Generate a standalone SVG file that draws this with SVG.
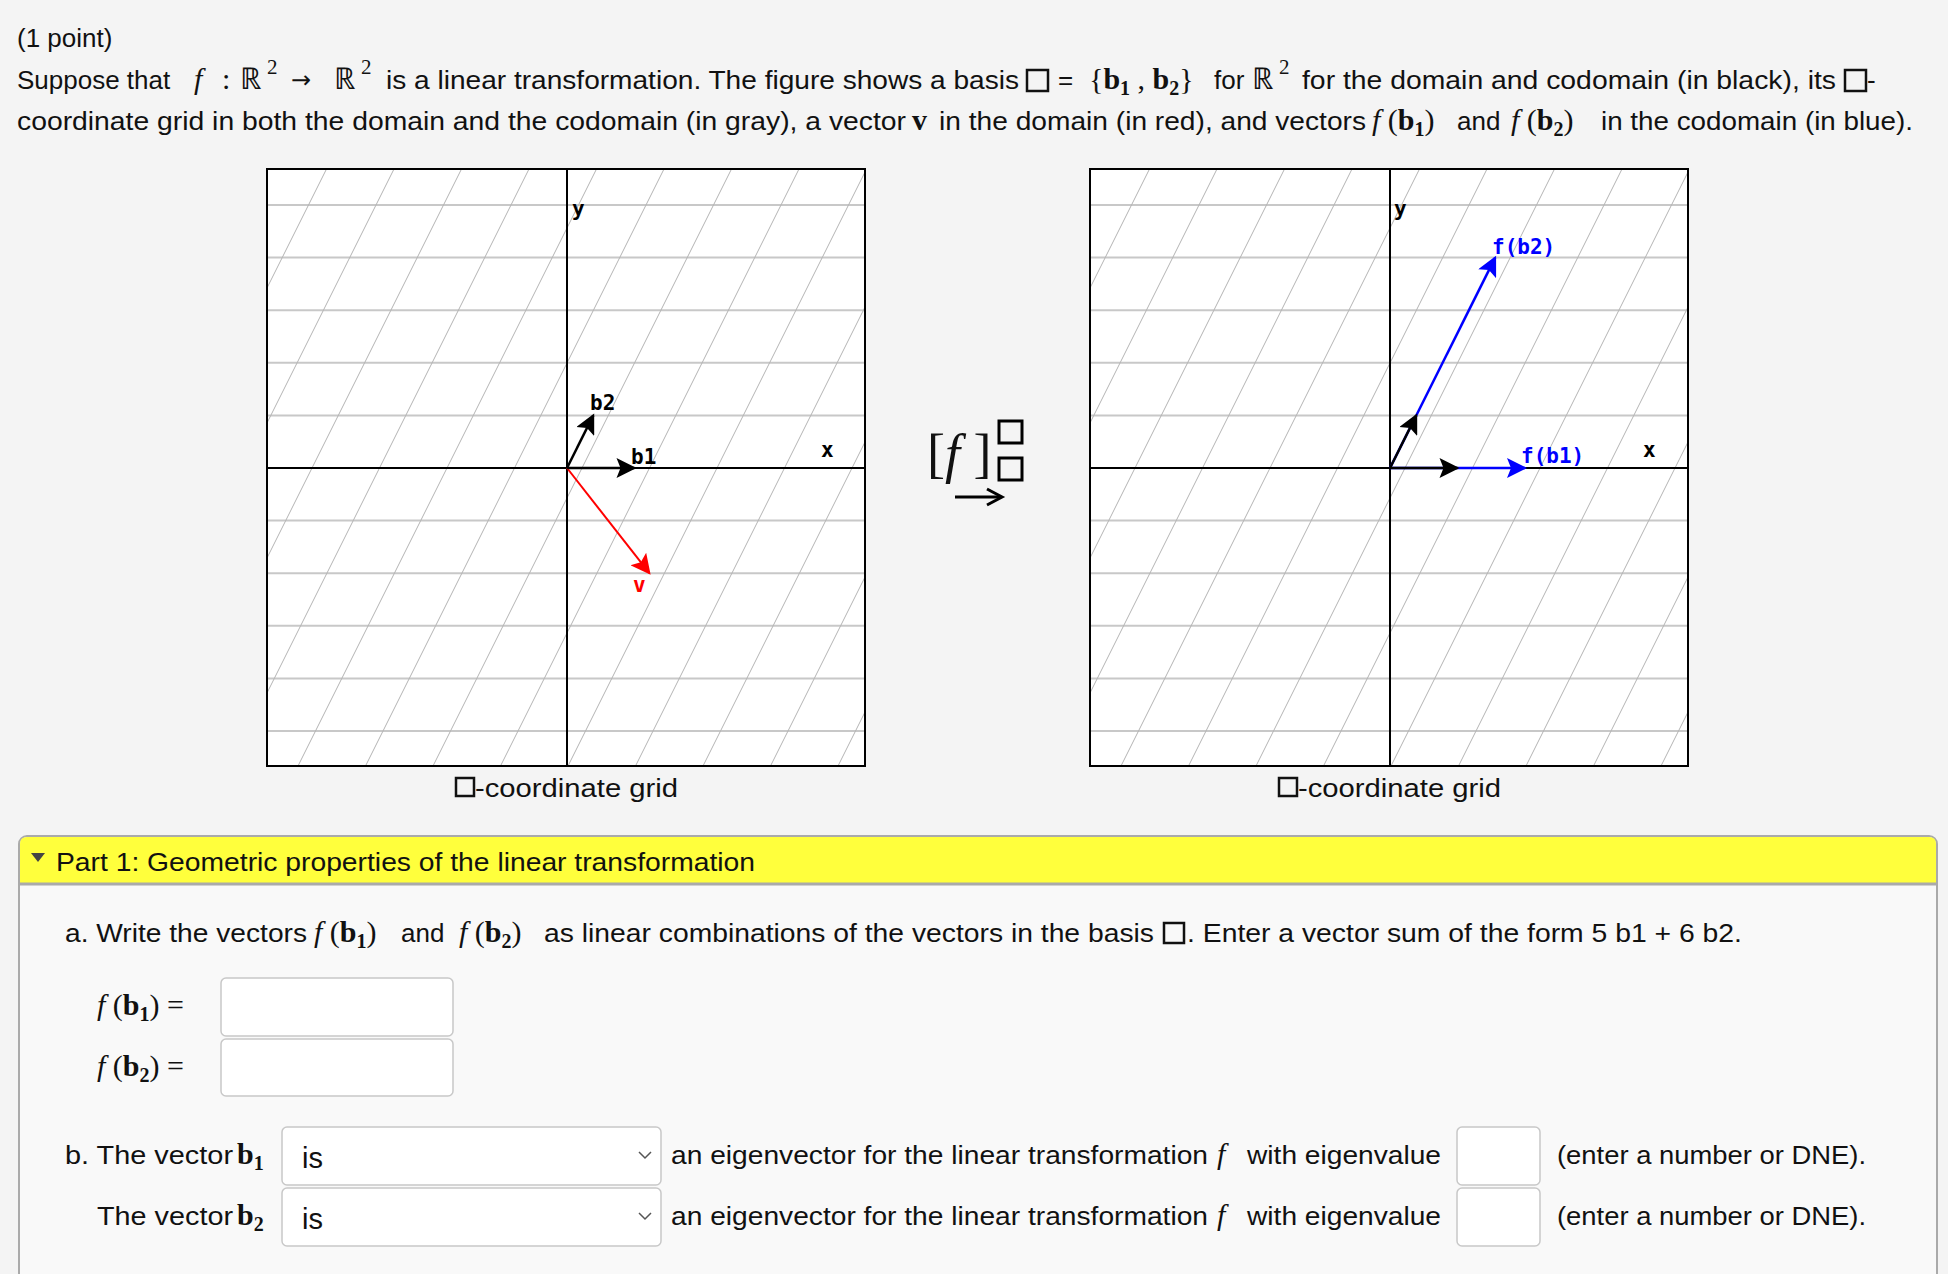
<svg xmlns="http://www.w3.org/2000/svg" width="1948" height="1274" viewBox="0 0 1948 1274">
<style>
.t{font-family:"Liberation Sans",Arial,sans-serif;font-size:26px;fill:#111}
.m{font-family:"Liberation Serif","Times New Roman",serif;font-size:30px;fill:#111}
.i{font-style:italic}
.b{font-weight:bold}
.s{font-size:20px}
.sup{font-size:21px}
.arw{font-family:"DejaVu Sans",sans-serif;font-size:24px;fill:#111}
.lab{font-family:"DejaVu Sans Mono",monospace;font-weight:bold;font-size:21px}
.hg{stroke:#c8c8c8;stroke-width:2}
.sg{stroke:#b4b4b4;stroke-width:1}
.ax{stroke:#000;stroke-width:2}
.inp{fill:#fff;stroke:#c8c8c8;stroke-width:1.5}
</style>
<defs>
<marker id="ak" viewBox="0 0 10 10" refX="9" refY="5" markerWidth="26" markerHeight="20" markerUnits="userSpaceOnUse" orient="auto"><path d="M0,0 L10,5 L0,10 L2,5 z" fill="#000"/></marker>
<marker id="ar" viewBox="0 0 10 10" refX="9" refY="5" markerWidth="26" markerHeight="20" markerUnits="userSpaceOnUse" orient="auto"><path d="M0,0 L10,5 L0,10 L2,5 z" fill="#f00"/></marker>
<marker id="ab" viewBox="0 0 10 10" refX="9" refY="5" markerWidth="26" markerHeight="20" markerUnits="userSpaceOnUse" orient="auto"><path d="M0,0 L10,5 L0,10 L2,5 z" fill="#00f"/></marker>
<clipPath id="c1"><rect x="267" y="169" width="598" height="597"/></clipPath>
<clipPath id="c2"><rect x="1090" y="169" width="598" height="597"/></clipPath>
<g id="grid">
<line class="hg" x1="-400" x2="400" y1="-263" y2="-263"/><line class="hg" x1="-400" x2="400" y1="-210.4" y2="-210.4"/>
<line class="hg" x1="-400" x2="400" y1="-157.8" y2="-157.8"/><line class="hg" x1="-400" x2="400" y1="-105.2" y2="-105.2"/>
<line class="hg" x1="-400" x2="400" y1="-52.6" y2="-52.6"/><line class="hg" x1="-400" x2="400" y1="52.6" y2="52.6"/>
<line class="hg" x1="-400" x2="400" y1="105.2" y2="105.2"/><line class="hg" x1="-400" x2="400" y1="157.8" y2="157.8"/>
<line class="hg" x1="-400" x2="400" y1="210.4" y2="210.4"/><line class="hg" x1="-400" x2="400" y1="263" y2="263"/>
<line class="sg" x1="-622.5" y1="330" x2="-287.5" y2="-340"/><line class="sg" x1="-555" y1="330" x2="-220" y2="-340"/>
<line class="sg" x1="-487.5" y1="330" x2="-152.5" y2="-340"/><line class="sg" x1="-420" y1="330" x2="-85" y2="-340"/>
<line class="sg" x1="-352.5" y1="330" x2="-17.5" y2="-340"/><line class="sg" x1="-285" y1="330" x2="50" y2="-340"/>
<line class="sg" x1="-217.5" y1="330" x2="117.5" y2="-340"/><line class="sg" x1="-150" y1="330" x2="185" y2="-340"/>
<line class="sg" x1="-82.5" y1="330" x2="252.5" y2="-340"/><line class="sg" x1="-15" y1="330" x2="320" y2="-340"/>
<line class="sg" x1="52.5" y1="330" x2="387.5" y2="-340"/><line class="sg" x1="120" y1="330" x2="455" y2="-340"/>
<line class="sg" x1="187.5" y1="330" x2="522.5" y2="-340"/><line class="sg" x1="255" y1="330" x2="590" y2="-340"/>
<line class="sg" x1="322.5" y1="330" x2="657.5" y2="-340"/><line class="sg" x1="390" y1="330" x2="725" y2="-340"/>
<line class="ax" x1="-400" x2="400" y1="0" y2="0"/><line class="ax" x1="0" x2="0" y1="-320" y2="320"/>
</g>
</defs>
<rect width="1948" height="1274" fill="#f4f4f4"/>

<g id="intro">
<text class="t" x="17" y="47">(1 point)</text>
<text class="t" x="17" y="89">Suppose that</text>
<text class="m i" x="194" y="89">f</text><text class="m" x="222" y="89">:</text>
<text class="m" x="240" y="89" font-family="DejaVu Serif">ℝ</text><text class="m sup" x="267" y="74">2</text>
<text class="arw" x="291" y="88">→</text>
<text class="m" x="334" y="89" font-family="DejaVu Serif">ℝ</text><text class="m sup" x="361" y="74">2</text>
<text class="t" x="386" y="89" textLength="633" lengthAdjust="spacingAndGlyphs">is a linear transformation. The figure shows a basis</text>
<rect x="1027" y="70" width="21" height="21" fill="none" stroke="#111" stroke-width="2.5"/>
<text class="t" x="1058" y="89">=</text>
<text class="m" x="1089" y="89">{<tspan class="b">b</tspan><tspan class="s b" dy="6">1</tspan><tspan dy="-6"> , </tspan><tspan class="b">b</tspan><tspan class="s b" dy="6">2</tspan><tspan dy="-6">}</tspan></text>
<text class="t" x="1214" y="89">for</text>
<text class="m" x="1252" y="89" font-family="DejaVu Serif">ℝ</text><text class="m sup" x="1279" y="74">2</text>
<text class="t" x="1302" y="89" textLength="534" lengthAdjust="spacingAndGlyphs">for the domain and codomain (in black), its</text>
<rect x="1845" y="70" width="21" height="21" fill="none" stroke="#111" stroke-width="2.5"/>
<text class="t" x="1867" y="89">-</text>
<text class="t" x="17" y="130" textLength="889" lengthAdjust="spacingAndGlyphs">coordinate grid in both the domain and the codomain (in gray), a vector</text>
<text class="m b" x="912" y="130">v</text>
<text class="t" x="939" y="130" textLength="427" lengthAdjust="spacingAndGlyphs">in the domain (in red), and vectors</text>
<text class="m" x="1372" y="130"><tspan class="i">f</tspan> (<tspan class="b">b</tspan><tspan class="s b" dy="6">1</tspan><tspan dy="-6">)</tspan></text>
<text class="t" x="1457" y="130">and</text>
<text class="m" x="1511" y="130"><tspan class="i">f</tspan> (<tspan class="b">b</tspan><tspan class="s b" dy="6">2</tspan><tspan dy="-6">)</tspan></text>
<text class="t" x="1601" y="130" textLength="312" lengthAdjust="spacingAndGlyphs">in the codomain (in blue).</text>
</g>

<g id="domain-plot">
<rect x="267" y="169" width="598" height="597" fill="#fff"/>
<g clip-path="url(#c1)"><use href="#grid" x="567" y="468"/></g>
<rect x="267" y="169" width="598" height="597" fill="none" stroke="#000" stroke-width="2"/>
<text class="lab" x="572" y="216">y</text>
<text class="lab" x="821" y="457">x</text>
<text class="lab" x="590" y="410">b2</text>
<text class="lab" x="631" y="464">b1</text>
<text class="lab" x="633" y="592" fill="#f00">v</text>
</g>
<g id="codomain-plot">
<rect x="1090" y="169" width="598" height="597" fill="#fff"/>
<g clip-path="url(#c2)"><use href="#grid" x="1390" y="468"/></g>
<rect x="1090" y="169" width="598" height="597" fill="none" stroke="#000" stroke-width="2"/>
<text class="lab" x="1394" y="216">y</text>
<text class="lab" x="1643" y="457">x</text>
<text class="lab" x="1492" y="254" fill="#00f">f(b2)</text>
<text class="lab" x="1521" y="463" fill="#00f">f(b1)</text>
</g>

<g id="connectors">
<line x1="567" y1="468" x2="649.4" y2="573.2" stroke="#f00" stroke-width="2" marker-end="url(#ar)"/>
<line x1="567" y1="468" x2="634.5" y2="468" stroke="#000" stroke-width="2.5" marker-end="url(#ak)"/>
<line x1="567" y1="468" x2="593.3" y2="415.4" stroke="#000" stroke-width="2.5" marker-end="url(#ak)"/>
<line x1="1390" y1="468" x2="1525" y2="468" stroke="#00f" stroke-width="2.5" marker-end="url(#ab)"/>
<line x1="1390" y1="468" x2="1495.2" y2="257.6" stroke="#00f" stroke-width="2.5" marker-end="url(#ab)"/>
<line x1="1390" y1="468" x2="1457.5" y2="468" stroke="#000" stroke-width="2.5" marker-end="url(#ak)"/>
<line x1="1390" y1="468" x2="1416.3" y2="415.4" stroke="#000" stroke-width="2.5" marker-end="url(#ak)"/>
</g>

<g id="map-symbol">
<text class="m" x="927" y="472" style="font-size:54px">[<tspan class="i">f</tspan> ]</text>
<rect x="999" y="421" width="23" height="22" fill="none" stroke="#000" stroke-width="3"/>
<rect x="999" y="458" width="23" height="22" fill="none" stroke="#000" stroke-width="3"/>
<line x1="955" y1="497" x2="1001" y2="497" stroke="#000" stroke-width="3"/>
<path d="M987,489 L1002,497 L987,505" fill="none" stroke="#000" stroke-width="3"/>
</g>

<g id="captions">
<rect x="456" y="778" width="18" height="18" fill="none" stroke="#111" stroke-width="2.5"/>
<text class="t" x="475" y="797" textLength="203" lengthAdjust="spacingAndGlyphs">-coordinate grid</text>
<rect x="1279" y="778" width="18" height="18" fill="none" stroke="#111" stroke-width="2.5"/>
<text class="t" x="1298" y="797" textLength="203" lengthAdjust="spacingAndGlyphs">-coordinate grid</text>
</g>

<g id="part1">
<rect x="19" y="836" width="1918" height="460" rx="8" fill="#f9f9f9" stroke="#aaa" stroke-width="2"/>
<path d="M20,883 V844 Q20,837 27,837 H1929 Q1936,837 1936,844 V883 Z" fill="#ffff3c"/>
<line x1="20" y1="884" x2="1936" y2="884" stroke="#aaa" stroke-width="3"/>
<path d="M31,853 L45,853 L38,862 Z" fill="#444"/>
<text class="t" x="56" y="871" textLength="699" lengthAdjust="spacingAndGlyphs">Part 1: Geometric properties of the linear transformation</text>

<text class="t" x="65" y="942" textLength="242" lengthAdjust="spacingAndGlyphs">a. Write the vectors</text>
<text class="m" x="314" y="942"><tspan class="i">f</tspan> (<tspan class="b">b</tspan><tspan class="s b" dy="6">1</tspan><tspan dy="-6">)</tspan></text>
<text class="t" x="401" y="942">and</text>
<text class="m" x="459" y="942"><tspan class="i">f</tspan> (<tspan class="b">b</tspan><tspan class="s b" dy="6">2</tspan><tspan dy="-6">)</tspan></text>
<text class="t" x="544" y="942" textLength="610" lengthAdjust="spacingAndGlyphs">as linear combinations of the vectors in the basis</text>
<rect x="1164" y="923" width="20" height="20" fill="none" stroke="#111" stroke-width="2.5"/>
<text class="t" x="1187" y="942" textLength="555" lengthAdjust="spacingAndGlyphs">. Enter a vector sum of the form 5 b1 + 6 b2.</text>

<text class="m" x="97" y="1015"><tspan class="i">f</tspan> (<tspan class="b">b</tspan><tspan class="s b" dy="6">1</tspan><tspan dy="-6">) =</tspan></text>
<rect class="inp" x="221" y="978" width="232" height="58" rx="5"/>
<text class="m" x="97" y="1076"><tspan class="i">f</tspan> (<tspan class="b">b</tspan><tspan class="s b" dy="6">2</tspan><tspan dy="-6">) =</tspan></text>
<rect class="inp" x="221" y="1039" width="232" height="57" rx="5"/>

<text class="t" x="65" y="1164" textLength="168" lengthAdjust="spacingAndGlyphs">b. The vector</text>
<text class="m b" x="237" y="1164">b<tspan class="s" dy="6">1</tspan></text>
<rect class="inp" x="282" y="1127" width="379" height="58" rx="5"/>
<text class="t" x="302" y="1168" fill="#333" style="font-size:29px">is</text>
<path d="M639,1152 L645,1158 L651,1152" fill="none" stroke="#555" stroke-width="1.5"/>
<text class="t" x="671" y="1164" textLength="537" lengthAdjust="spacingAndGlyphs">an eigenvector for the linear transformation</text>
<text class="m i" x="1217" y="1164">f</text>
<text class="t" x="1247" y="1164" textLength="194" lengthAdjust="spacingAndGlyphs">with eigenvalue</text>
<rect class="inp" x="1457" y="1127" width="83" height="58" rx="5"/>
<text class="t" x="1557" y="1164" textLength="309" lengthAdjust="spacingAndGlyphs">(enter a number or DNE).</text>

<text class="t" x="97" y="1225" textLength="136" lengthAdjust="spacingAndGlyphs">The vector</text>
<text class="m b" x="237" y="1225">b<tspan class="s" dy="6">2</tspan></text>
<rect class="inp" x="282" y="1188" width="379" height="58" rx="5"/>
<text class="t" x="302" y="1229" fill="#333" style="font-size:29px">is</text>
<path d="M639,1213 L645,1219 L651,1213" fill="none" stroke="#555" stroke-width="1.5"/>
<text class="t" x="671" y="1225" textLength="537" lengthAdjust="spacingAndGlyphs">an eigenvector for the linear transformation</text>
<text class="m i" x="1217" y="1225">f</text>
<text class="t" x="1247" y="1225" textLength="194" lengthAdjust="spacingAndGlyphs">with eigenvalue</text>
<rect class="inp" x="1457" y="1188" width="83" height="58" rx="5"/>
<text class="t" x="1557" y="1225" textLength="309" lengthAdjust="spacingAndGlyphs">(enter a number or DNE).</text>
</g>
</svg>
